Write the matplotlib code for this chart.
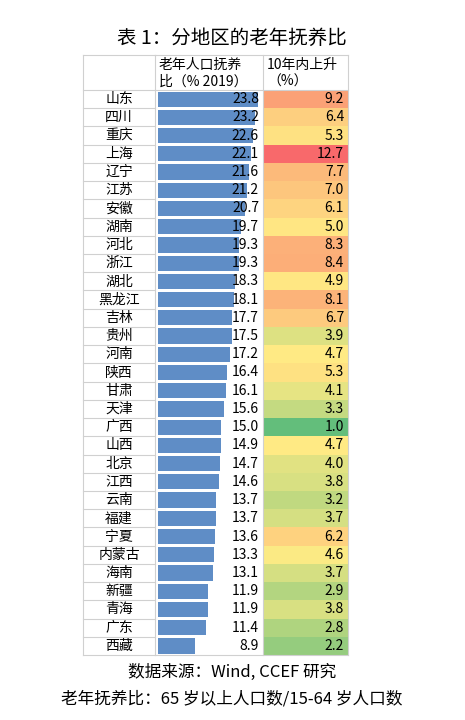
import matplotlib.pyplot as plt
import numpy as np
from matplotlib.colors import LinearSegmentedColormap

plt.rcParams['font.family'] = ['Noto Sans CJK SC', 'DejaVu Sans']

regions = ['山东', '四川', '重庆', '上海', '辽宁', '江苏', '安徽', '湖南', '河北', '浙江',
           '湖北', '黑龙江', '吉林', '贵州', '河南', '陕西', '甘肃', '天津', '广西', '山西',
           '北京', '江西', '云南', '福建', '宁夏', '内蒙古', '海南', '新疆', '青海', '广东', '西藏']
ratio_2019 = [23.8, 23.2, 22.6, 22.1, 21.6, 21.2, 20.7, 19.7, 19.3, 19.3,
              18.3, 18.1, 17.7, 17.5, 17.2, 16.4, 16.1, 15.6, 15.0, 14.9,
              14.7, 14.6, 13.7, 13.7, 13.6, 13.3, 13.1, 11.9, 11.9, 11.4, 8.9]
rise_10y = [9.2, 6.4, 5.3, 12.7, 7.7, 7.0, 6.1, 5.0, 8.3, 8.4,
            4.9, 8.1, 6.7, 3.9, 4.7, 5.3, 4.1, 3.3, 1.0, 4.7,
            4.0, 3.8, 3.2, 3.7, 6.2, 4.6, 3.7, 2.9, 3.8, 2.8, 2.2]

fig = plt.figure(figsize=(4.65, 7.2), dpi=100)
ax = fig.add_axes([0, 0, 1, 1])
ax.set_xlim(0, 465)
ax.set_ylim(720, 0)
ax.axis('off')

# table geometry in pixels
x0, x1, x2, x3 = 83, 155, 263, 348
top, head_h = 55, 35
row_h = (655 - (top + head_h)) / len(regions)
n = len(regions)
ys = top + head_h + row_h * (np.arange(n) + 0.5)

cmap = LinearSegmentedColormap.from_list('ryg', ['#63BE7B', '#FFEB84', '#F8696B'])
vmin, vmax, vmid = min(rise_10y), max(rise_10y), np.percentile(rise_10y, 50)

def norm(v):
    if v <= vmid:
        return 0.5 * (v - vmin) / (vmid - vmin)
    return 0.5 + 0.5 * (v - vmid) / (vmax - vmid)

# colored cells
for y, v in zip(ys, rise_10y):
    ax.add_patch(plt.Rectangle((x2, y - row_h / 2), x3 - x2, row_h, color=cmap(norm(v)), lw=0))
    ax.text(x3 - 4, y, f'{v:.1f}', ha='right', va='center', fontsize=10)

# bars
scale = 100 / max(ratio_2019)
ax.barh(ys, np.array(ratio_2019) * scale, left=x1 + 3, height=row_h - 3, color='#5F8DC6')
for y, v, r in zip(ys, ratio_2019, regions):
    ax.text(x2 - 4, y, f'{v:.1f}', ha='right', va='center', fontsize=10)
    ax.text((x0 + x1) / 2, y, r, ha='center', va='center', fontsize=10)

# grid lines
bottom = top + head_h + row_h * n
for x in [x0, x1, x2, x3]:
    ax.plot([x, x], [top, bottom], color='#D0D0D0', lw=0.8)
for yy in [top, top + head_h] + list(top + head_h + row_h * np.arange(1, n + 1)):
    ax.plot([x0, x1], [yy, yy], color='#D0D0D0', lw=0.8)
ax.plot([x1, x3], [top, top], color='#D0D0D0', lw=0.8)
ax.plot([x1, x3], [top + head_h, top + head_h], color='#D0D0D0', lw=0.8)
ax.plot([x1, x3], [bottom, bottom], color='#D0D0D0', lw=0.8)

ax.text(x1 + 4, top + 10, '老年人口抚养', ha='left', va='center', fontsize=10)
ax.text(x1 + 4, top + 27, '比（% 2019）', ha='left', va='center', fontsize=10)
ax.text(x2 + 4, top + 10, '10年内上升', ha='left', va='center', fontsize=10)
ax.text(x2 + 4, top + 27, '（%）', ha='left', va='center', fontsize=10)

ax.text(232, 38, '表 1：分地区的老年抚养比', ha='center', va='center', fontsize=14)
ax.text(232, 672, '数据来源：Wind, CCEF 研究', ha='center', va='center', fontsize=12)
ax.text(232, 699, '老年抚养比：65 岁以上人口数/15-64 岁人口数', ha='center', va='center', fontsize=12)

fig.savefig('out.png', dpi=100)
